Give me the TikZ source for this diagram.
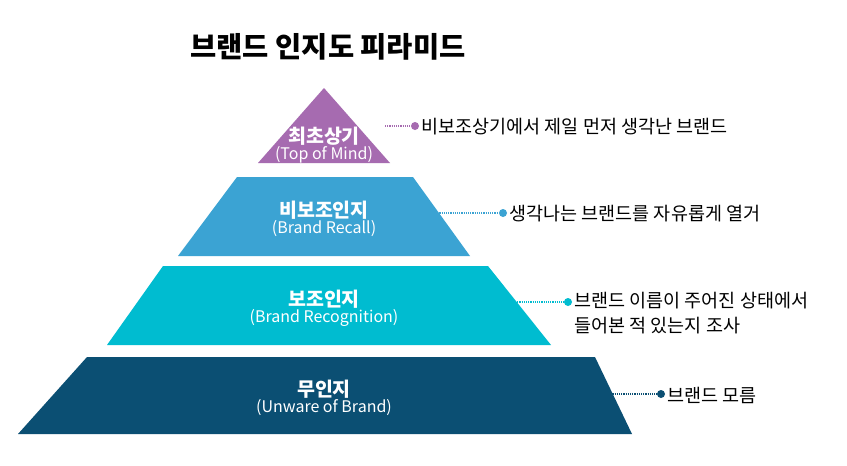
\documentclass[tikz,border=0pt]{standalone}
\usepackage{fontspec}
\setmainfont{Noto Sans CJK KR}
\begin{document}
\begin{tikzpicture}[x=1pt,y=-1pt,
  lbl/.style={text=white,font=\fontsize{19.5}{21}\selectfont\bfseries,align=center},
  sub/.style={text=white,font=\fontsize{16}{17}\selectfont,align=center},
  lead/.style={densely dotted,line width=1.2pt},
  desc/.style={anchor=west,font=\fontsize{18.5}{25}\selectfont,align=left,text=black}]
\definecolor{c1}{HTML}{A66BB0}
\definecolor{c2}{HTML}{3BA3D3}
\definecolor{c3}{HTML}{00BCD0}
\definecolor{c4}{HTML}{0B4F73}
\useasboundingbox[fill=white] (0,0) rectangle (847,466);
\node[font=\fontsize{28.5}{30}\selectfont\bfseries] (title) at (328,47) {브랜드 인지도 피라미드};
\fill[c1] (324,88) -- (390,163) -- (258,163) -- cycle;
\fill[c2] (237,177) -- (413,177) -- (470,256) -- (178,256) -- cycle;
\fill[c3] (163,266) -- (488,266) -- (551,345) -- (107,345) -- cycle;
\fill[c4] (87,357) -- (595,357) -- (632,434) -- (18,434) -- cycle;
\node[lbl] (t1) at (324,136) {최초상기};
\node[sub] (s1) at (324,155) {(Top of Mind)};
\node[lbl] (t2) at (324,210) {비보조인지};
\node[sub] (s2) at (324,229) {(Brand Recall)};
\node[lbl] (t3) at (324,299) {보조인지};
\node[sub] (s3) at (324,318) {(Brand Recognition)};
\node[lbl] (t4) at (324,389) {무인지};
\node[sub] (s4) at (324,408) {(Unware of Brand)};
\coordinate (a1) at (385,126); \coordinate (a2) at (435,213);
\coordinate (a3) at (515,302); \coordinate (a4) at (597,394);
\node[circle,fill=c1,inner sep=0pt,minimum size=8pt] (d1) at (415,126) {};
\node[circle,fill=c2,inner sep=0pt,minimum size=8pt] (d2) at (503,213) {};
\node[circle,fill=c3,inner sep=0pt,minimum size=8pt] (d3) at (568,302) {};
\node[circle,fill=c4,inner sep=0pt,minimum size=8pt] (d4) at (661,394) {};
\draw[lead,c1] (a1) -- (d1);
\draw[lead,c2] (a2) -- (d2);
\draw[lead,c3] (a3) -- (d3);
\draw[lead,c4] (a4) -- (d4);
\node[desc] (e1) at (418,127) {비보조상기에서 제일 먼저 생각난 브랜드};
\node[desc] (e2) at (506,214) {생각나는 브랜드를 자유롭게 열거};
\node[desc,anchor=north west] (e3) at (571,289) {브랜드 이름이 주어진 상태에서\\들어본 적 있는지 조사};
\node[desc] (e4) at (664,395) {브랜드 모름};
\end{tikzpicture}
\end{document}
